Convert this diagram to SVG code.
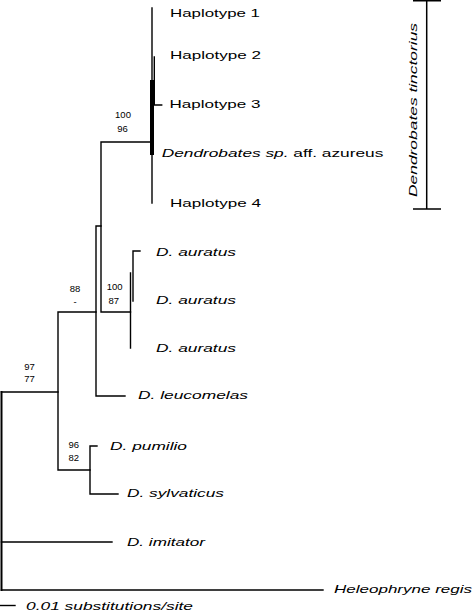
<svg xmlns="http://www.w3.org/2000/svg" width="474" height="610" viewBox="0 0 474 610">
<style>
.ln{stroke:#000;stroke-width:1.4;fill:none;stroke-linecap:square}
.lb{font-family:"Liberation Sans",Arial,sans-serif;font-size:11px;fill:#000}
.it{font-style:italic}
.bs{font-family:"Liberation Sans",Arial,sans-serif;font-size:9.5px;fill:#000;text-anchor:middle}
</style>
<rect width="474" height="610" fill="#fff"/>
<g id="connectors">
<path class="ln" d="M1.5,392V590" style="stroke-width:2"/>
<path class="ln" d="M1.5,392H58M1.5,542H112M1.5,590H323"/>
<path class="ln" d="M58,312V470M58,312H96M58,470H90"/>
<path class="ln" d="M90,446V494M90,446H97M90,494H118"/>
<path class="ln" d="M96,226V396M96,396H125M96,226H101"/>
<path class="ln" d="M101,142V312M101,142H151M101,312H130.5"/>
<path class="ln" d="M130.5,273V348M133,251V301M133,251H140"/>
<path class="ln" d="M152,8V203M154.3,57V105M154.3,105H161.7"/>
<rect x="150" y="80" width="4" height="75" fill="#000"/>
<path class="ln" d="M0,605.5H15"/>
<path class="ln" d="M426.7,0V209M413,0.8H441M413,209H441" style="stroke-linecap:butt;stroke-width:1.5"/>
</g>
<g id="node-h1"><text class="lb" x="170" y="17.3" textLength="90" lengthAdjust="spacingAndGlyphs">Haplotype 1</text></g>
<g id="node-h2"><text class="lb" x="170" y="59.3" textLength="91" lengthAdjust="spacingAndGlyphs">Haplotype 2</text></g>
<g id="node-h3"><text class="lb" x="169.5" y="108.3" textLength="91" lengthAdjust="spacingAndGlyphs">Haplotype 3</text></g>
<g id="node-daz"><text class="lb" x="161.7" y="156.7" textLength="221.6" lengthAdjust="spacingAndGlyphs"><tspan class="it">Dendrobates sp.</tspan> aff. azureus</text></g>
<g id="node-h4"><text class="lb" x="170" y="206.7" textLength="91" lengthAdjust="spacingAndGlyphs">Haplotype 4</text></g>
<g id="node-au1"><text class="lb it" x="156" y="255.7" textLength="80" lengthAdjust="spacingAndGlyphs">D. auratus</text></g>
<g id="node-au2"><text class="lb it" x="156" y="304" textLength="80" lengthAdjust="spacingAndGlyphs">D. auratus</text></g>
<g id="node-au3"><text class="lb it" x="156" y="351.7" textLength="80" lengthAdjust="spacingAndGlyphs">D. auratus</text></g>
<g id="node-leu"><text class="lb it" x="138" y="399.3" textLength="110" lengthAdjust="spacingAndGlyphs">D. leucomelas</text></g>
<g id="node-pum"><text class="lb it" x="110" y="450" textLength="77" lengthAdjust="spacingAndGlyphs">D. pumilio</text></g>
<g id="node-syl"><text class="lb it" x="127" y="497" textLength="97" lengthAdjust="spacingAndGlyphs">D. sylvaticus</text></g>
<g id="node-imi"><text class="lb it" x="127" y="545.7" textLength="78" lengthAdjust="spacingAndGlyphs">D. imitator</text></g>
<g id="node-hel"><text class="lb it" x="334" y="593.3" textLength="138" lengthAdjust="spacingAndGlyphs">Heleophryne regis</text></g>
<g id="scale"><text class="lb it" x="26" y="609.5" textLength="167" lengthAdjust="spacingAndGlyphs">0.01 substitutions/site</text></g>
<g id="clade-label"><text class="lb it" transform="translate(416.7,197) rotate(-90)" x="0" y="0" textLength="174" lengthAdjust="spacingAndGlyphs">Dendrobates tinctorius</text></g>
<g id="support">
<text class="bs" x="123" y="118.3">100</text><text class="bs" x="122.5" y="131.7">96</text>
<text class="bs" x="114.7" y="290">100</text><text class="bs" x="113.8" y="304">87</text>
<text class="bs" x="75" y="291.7">88</text><text class="bs" x="75" y="305">-</text>
<text class="bs" x="29.5" y="370">97</text><text class="bs" x="29.5" y="382.3">77</text>
<text class="bs" x="73.7" y="448.3">96</text><text class="bs" x="73.7" y="460.7">82</text>
</g>
</svg>
